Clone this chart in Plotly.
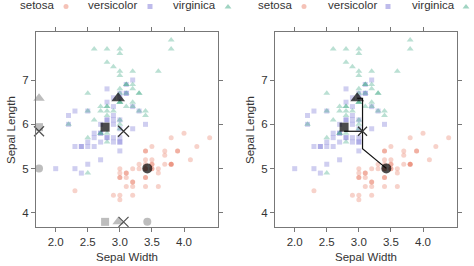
import numpy as np
import plotly.graph_objects as go

# ---- iris data: sepal width / sepal length per species ----
setosa_sw = [3.5,3.0,3.2,3.1,3.6,3.9,3.4,3.4,2.9,3.1,3.7,3.4,3.0,3.0,4.0,4.4,3.9,3.5,3.8,3.8,
             3.4,3.7,3.6,3.3,3.4,3.0,3.4,3.5,3.4,3.2,3.1,3.4,4.1,4.2,3.1,3.2,3.5,3.6,3.0,3.4,
             3.5,2.3,3.2,3.5,3.8,3.0,3.8,3.2,3.7,3.3]
setosa_sl = [5.1,4.9,4.7,4.6,5.0,5.4,4.6,5.0,4.4,4.9,5.4,4.8,4.8,4.3,5.8,5.7,5.4,5.1,5.7,5.1,
             5.4,5.1,4.6,5.1,4.8,5.0,5.0,5.2,5.2,4.7,4.8,5.4,5.2,5.5,4.9,5.0,5.5,4.9,4.4,5.1,
             5.0,4.5,4.4,5.0,5.1,4.8,5.1,4.6,5.3,5.0]
versicolor_sw = [3.2,3.2,3.1,2.3,2.8,2.8,3.3,2.4,2.9,2.7,2.0,3.0,2.2,2.9,2.9,3.1,3.0,2.7,2.2,2.5,
                 3.2,2.8,2.5,2.8,2.9,3.0,2.8,3.0,2.9,2.6,2.4,2.4,2.7,2.7,3.0,3.4,3.1,2.3,3.0,2.5,
                 2.6,3.0,2.6,2.3,2.7,3.0,2.9,2.9,2.5,2.8]
versicolor_sl = [7.0,6.4,6.9,5.5,6.5,5.7,6.3,4.9,6.6,5.2,5.0,5.9,6.0,6.1,5.6,6.7,5.6,5.8,6.2,5.6,
                 5.9,6.1,6.3,6.1,6.4,6.6,6.8,6.7,6.0,5.7,5.5,5.5,5.8,6.0,5.4,6.0,6.7,6.3,5.6,5.5,
                 5.5,6.1,5.8,5.0,5.6,5.7,5.7,6.2,5.1,5.7]
virginica_sw = [3.3,2.7,3.0,2.9,3.0,3.0,2.5,2.9,2.5,3.6,3.2,2.7,3.0,2.5,2.8,3.2,3.0,3.8,2.6,2.2,
                3.2,2.8,2.8,2.7,3.3,3.2,2.8,3.0,2.8,3.0,2.8,3.8,2.8,2.8,2.6,3.0,3.4,3.1,3.0,3.1,
                3.1,3.1,2.7,3.2,3.3,3.0,2.5,3.0,3.4,3.0]
virginica_sl = [6.3,5.8,7.1,6.3,6.5,7.6,4.9,7.3,6.7,7.2,6.5,6.4,6.8,5.7,5.8,6.4,6.5,7.7,7.7,6.0,
                6.9,5.6,7.7,6.3,6.7,7.2,6.2,6.1,6.4,7.2,7.4,7.9,6.4,6.3,6.1,7.7,6.3,6.4,6.0,6.9,
                6.7,6.9,5.8,6.8,6.7,6.7,6.3,6.5,6.2,5.9]

species = ["setosa", "versicolor", "virginica"]
x_ticks = [2.0, 2.5, 3.0, 3.5, 4.0]
y_ticks = [4, 5, 6, 7]

# path breakpoint on the right panel
path_mid_sl = 5.45

W, H = 474, 266
colors = {"setosa": "rgba(225,80,50,0.26)",
          "versicolor": "rgba(110,105,210,0.33)",
          "virginica": "rgba(45,160,120,0.33)"}
leg_colors = {"setosa": "rgba(225,80,50,0.35)",
              "versicolor": "rgba(110,105,210,0.45)",
              "virginica": "rgba(45,160,120,0.45)"}
symbols = {"setosa": "circle", "versicolor": "square", "virginica": "triangle-up"}
sizes = {"setosa": 5, "versicolor": 5, "virginica": 6}
data = {"setosa": (setosa_sw, setosa_sl),
        "versicolor": (versicolor_sw, versicolor_sl),
        "virginica": (virginica_sw, virginica_sl)}

means = {s: (float(np.mean(data[s][0])), float(np.mean(data[s][1]))) for s in species}
all_sw = setosa_sw + versicolor_sw + virginica_sw
all_sl = setosa_sl + versicolor_sl + virginica_sl
grand = (float(np.mean(all_sw)), float(np.mean(all_sl)))

xr = [1.693, 4.53]
yr = [3.684, 8.083]
marg_x = 1.74
marg_y = 3.80

fig = go.Figure()
FONT = "Liberation Sans, Arial, sans-serif"

for p in (1, 2):
    xa = "x" if p == 1 else "x2"
    ya = "y" if p == 1 else "y2"
    for s in species:
        fig.add_trace(go.Scatter(x=data[s][0], y=data[s][1], mode="markers",
                                 marker=dict(symbol=symbols[s], size=sizes[s], color=colors[s],
                                             line=dict(width=0)),
                                 xaxis=xa, yaxis=ya, showlegend=False, hoverinfo="skip"))

# left panel: marginal gray markers
mx_sw = [means[s][0] for s in species]
my_sl = [means[s][1] for s in species]
msym = [symbols[s] for s in species]
msize = [8, 8, 10]
GRAY = "rgba(110,110,110,0.65)"
fig.add_trace(go.Scatter(x=[marg_x]*3, y=my_sl, mode="markers",
                         marker=dict(symbol=msym, size=msize, color=GRAY, line=dict(width=0)),
                         xaxis="x", yaxis="y", showlegend=False, cliponaxis=False))
fig.add_trace(go.Scatter(x=mx_sw, y=[marg_y]*3, mode="markers",
                         marker=dict(symbol=msym, size=msize, color=GRAY, line=dict(width=0)),
                         xaxis="x", yaxis="y", showlegend=False, cliponaxis=False))
fig.add_trace(go.Scatter(x=[marg_x, grand[0]], y=[grand[1], marg_y], mode="markers",
                         marker=dict(symbol="x-thin-open", size=10, color="rgba(50,50,50,0.85)",
                                     line=dict(width=1.2)),
                         xaxis="x", yaxis="y", showlegend=False, cliponaxis=False))

# right panel: connecting path
fig.add_trace(go.Scatter(x=[means["virginica"][0], grand[0], grand[0], means["setosa"][0]],
                         y=[means["virginica"][1], means["virginica"][1], path_mid_sl, means["setosa"][1]],
                         mode="lines", line=dict(color="#111", width=1.2),
                         xaxis="x2", yaxis="y2", showlegend=False))
fig.add_trace(go.Scatter(x=[means["versicolor"][0], grand[0]],
                         y=[grand[1], grand[1]],
                         mode="lines", line=dict(color="#111", width=1.2),
                         xaxis="x2", yaxis="y2", showlegend=False))

# grand mean X and black group means on both panels
for xa, ya, xs in (("x", "y", 11), ("x2", "y2", 9)):
    fig.add_trace(go.Scatter(x=[grand[0]], y=[grand[1]], mode="markers",
                             marker=dict(symbol="x-thin-open", size=xs, color="#333", line=dict(width=1.2)),
                             xaxis=xa, yaxis=ya, showlegend=False))
    fig.add_trace(go.Scatter(x=mx_sw, y=my_sl, mode="markers",
                             marker=dict(symbol=msym, size=[10, 9, 12], color="#000", line=dict(width=0)),
                             xaxis=xa, yaxis=ya, showlegend=False))

# legend (drawn on a full-figure axis pair in pixel units)
leg_text_x = [20, 88, 173, 258, 328, 412]
leg_mark_x = [66, 150, 228, 304, 388, 466]
leg_y = 6.5
for i in range(6):
    s = species[i % 3]
    fig.add_trace(go.Scatter(x=[leg_mark_x[i]], y=[leg_y + (0.5 if s == "virginica" else 0)], mode="markers",
                             marker=dict(symbol=symbols[s], size=sizes[s], color=leg_colors[s], line=dict(width=0)),
                             xaxis="x3", yaxis="y3", showlegend=False, cliponaxis=False, hoverinfo="skip"))
    fig.add_trace(go.Scatter(x=[leg_text_x[i]], y=[leg_y], mode="text", text=[s],
                             textposition="middle right",
                             textfont=dict(family=FONT, size=11.5, color="#333"),
                             xaxis="x3", yaxis="y3", showlegend=False, cliponaxis=False, hoverinfo="skip"))

axis_common = dict(showgrid=False, zeroline=False, showline=True, linecolor="#777", linewidth=1,
                   mirror="ticks", ticks="outside", ticklen=4, tickcolor="#777", tickwidth=1,
                   tickfont=dict(family=FONT, size=11.5, color="#333"))

fig.update_layout(
    width=W, height=H, margin=dict(l=0, r=0, t=0, b=0),
    paper_bgcolor="white", plot_bgcolor="rgba(0,0,0,0)", showlegend=False,
    xaxis=dict(domain=[36 / W, 218 / W], range=xr, anchor="y", tickvals=x_ticks,
               ticktext=[f"{v:.1f}" for v in x_ticks], **axis_common),
    yaxis=dict(domain=[1 - 227 / H, 1 - 32 / H], range=yr, anchor="x", tickvals=y_ticks, **axis_common),
    xaxis2=dict(domain=[275 / W, 457 / W], range=xr, anchor="y2", tickvals=x_ticks,
                ticktext=[f"{v:.1f}" for v in x_ticks], **axis_common),
    yaxis2=dict(domain=[1 - 227 / H, 1 - 32 / H], range=yr, anchor="x2", tickvals=y_ticks, **axis_common),
    xaxis3=dict(domain=[0, 1], range=[0, W], visible=False, anchor="y3"),
    yaxis3=dict(domain=[0, 1], range=[H, 0], visible=False, anchor="x3"),
)

for cx, lx in ((127, 11), (366, 250)):
    fig.add_annotation(x=cx / W, y=1 - 257 / H, xref="paper", yref="paper", text="Sepal Width",
                       showarrow=False, xanchor="center", yanchor="middle",
                       font=dict(family=FONT, size=11.5, color="#333"))
    fig.add_annotation(x=lx / W, y=1 - 130 / H, xref="paper", yref="paper", text="Sepal Length",
                       showarrow=False, xanchor="center", yanchor="middle", textangle=-90,
                       font=dict(family=FONT, size=11.5, color="#333"))

fig.write_html("out.html")
